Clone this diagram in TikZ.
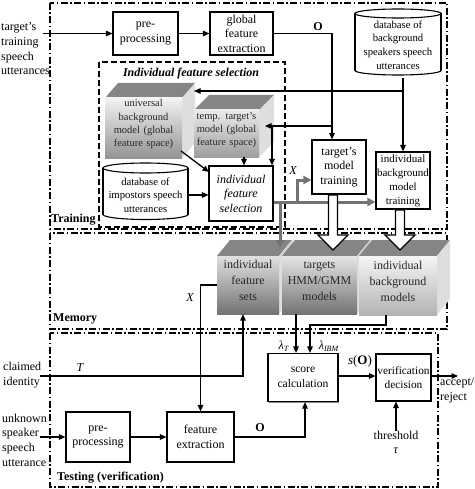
\documentclass[tikz,border=0pt]{standalone}
\usepackage{fontspec}
\setmainfont{Liberation Serif}
\usetikzlibrary{arrows.meta,shadows,fit,calc}
\newcommand{\mkcube}[9]{%
  \fill[black!48] (#2,#3) -- (#2+\cdx,#3-\cdy) -- (#4+\cdx,#3-\cdy) -- (#4,#3) -- cycle;
  \fill[black!13] (#4,#3) -- (#4+\cdx,#3-\cdy) -- (#4+\cdx,#5-\cdy) -- (#4,#5) -- cycle;
  \shade[top color=#6, bottom color=#7] (#2,#3) rectangle (#4,#5);
  \node[fit={(#2,#3) (#4,#5)}, inner sep=0pt, align=center, text=black!85, #8] (#1) {#9};
}
\begin{document}
\begin{tikzpicture}[x=1pt,y=-1pt,
  box/.style={draw, line width=1.1pt, fill=white, align=center, inner sep=0pt,
    font=\fontsize{12}{14.5}\selectfont,
    drop shadow={shadow xshift=1.3pt, shadow yshift=-1.3pt, fill=black!45, opacity=1}},
  ar/.style={line width=1.3pt, -{Triangle[length=6.5pt,width=5.5pt]}},
  ln/.style={line width=1.3pt},
  garr/.style={line width=3pt, draw=black!55, -{Triangle[length=8pt,width=8pt]}},
  ddframe/.style={line width=1.1pt, dash pattern=on 7pt off 2.5pt on 1.5pt off 2.5pt},
  dbtext/.style={align=center, inner sep=0pt, font=\fontsize{10.7}{13.6}\selectfont},
  lbl/.style={font=\fontsize{12}{14.5}\selectfont, inner sep=0pt},
  txt/.style={align=left, inner sep=0pt, font=\fontsize{12}{14.7}\selectfont},
  ttl/.style={font=\bfseries\fontsize{12}{14}\selectfont, inner sep=0pt, anchor=west}
]
\useasboundingbox (0,0) rectangle (474,489);

% ---------- frames ----------
\draw[ddframe] (50,3) rectangle (447,229);
\draw[ddframe] (50,233) rectangle (447,329);
\draw[ddframe] (50,333) rectangle (438,487);
\draw[line width=1.6pt, dash pattern=on 6pt off 3pt] (99,62) rectangle (285,227);
\node[ttl] at (51,220) {Training};
\node[ttl] at (53,319) {Memory};
\node[ttl] at (57,478) {Testing (verification)};
\node[font=\bfseries\itshape\fontsize{12}{14}\selectfont, inner sep=0pt] at (191,74) {Individual feature selection};

% ---------- left texts ----------
\node[txt, anchor=west] at (1,49) {target’s\\training\\speech\\utterances};
\node[txt, anchor=west] at (3,375) {claimed\\identity};
\node[txt, anchor=west] at (2,440) {unknown\\speaker\\speech\\utterance};
\node[txt, anchor=west] at (440,390) {accept/\\reject};

% ---------- training boxes ----------
\node[box, minimum width=65pt, minimum height=43pt] (pp1) at (145.5,33.5) {pre-\\processing};
\node[box, minimum width=63pt, minimum height=43pt] (gfe) at (241.5,33.5) {global\\feature\\extraction};
\node[box, minimum width=54pt, minimum height=54pt] (tmt) at (339,167) {target’s\\model\\training};
\node[box, minimum width=54pt, minimum height=57pt, font=\fontsize{11}{14}\selectfont] (ibmt) at (403,180.5) {individual\\background\\model\\training};
\node[box, minimum width=64pt, minimum height=55pt, font=\itshape\fontsize{12}{14.5}\selectfont] (ifs) at (241,193.5) {individual\\feature\\selection};

% database of background speakers (cylinder)
\draw[line width=1.1pt, fill=white] (398,70.5) ellipse (43 and 4.5);
\fill[white] (355,13.5) rectangle (441,70.5);
\draw[line width=1.1pt] (355,13.5) -- (355,70.5) (441,13.5) -- (441,70.5);
\draw[line width=1.1pt, fill=white] (398,13.5) ellipse (43 and 4.5);
\node[dbtext, minimum width=86pt, minimum height=66pt] (dbbg) at (398,45) {database of\\background\\speakers speech\\utterances};

% database of impostors (cylinder)
\draw[line width=1.1pt, fill=white] (145.5,214.5) ellipse (42.5 and 5);
\fill[white] (103,168) rectangle (188,214.5);
\draw[line width=1.1pt] (103,168) -- (103,214.5) (188,168) -- (188,214.5);
\draw[line width=1.1pt, fill=white] (145.5,168) ellipse (42.5 and 5);
\node[dbtext, minimum width=85pt, minimum height=50pt] (dbimp) at (145.5,195) {database of\\impostors speech\\utterances};

% cubes in training
\def\cdx{13}\def\cdy{15}
\mkcube{ubm}{105}{98}{182}{158}{black!5}{black!42}{font=\fontsize{10.5}{13.3}\selectfont}{universal\\background\\model (global\\feature space)}
\def\cdx{15}\def\cdy{15}
\mkcube{tcube}{194}{110}{259}{157}{black!8}{black!38}{font=\fontsize{10.5}{13.3}\selectfont}{temp. target’s\\model (global\\feature space)}

% cubes in memory
\def\cdx{13}\def\cdy{16}
\mkcube{fsc}{217}{256}{279}{314}{black!12}{black!55}{font=\fontsize{12}{16}\selectfont}{individual\\feature\\sets}
\mkcube{tmc}{282}{256}{357}{314}{black!10}{black!55}{font=\fontsize{12}{16}\selectfont}{targets\\HMM/GMM\\models}
\mkcube{bmc}{359}{256}{437}{315}{black!4}{black!30}{font=\fontsize{12}{16}\selectfont}{individual\\background\\models}
\draw[white!80!black, line width=0.8pt] (280.5,256) -- (293.5,240) (358,256) -- (371,240);

% ---------- training connectors ----------
\coordinate (in1) at (43,33.5);
\draw[ar] (in1) -- (in1 -| pp1.west);
\draw[ar] (pp1) -- (gfe);
\draw[ar] (gfe.east) -| (tmt.north -| 332,0);
\node[font=\bfseries\fontsize{12}{14}\selectfont, inner sep=0pt] at (318,27) {O};
\draw[ar] (332,126) -- (265,126);
\draw[ar] (272,126) -- (ifs.north -| 272,0);
\draw[ar] (tcube.south -| 244,0) -- (ifs.north -| 244,0);
\draw[ar] (dbbg.south -| ibmt.north) -- (ibmt.north);
\draw[ar] (403,91) -- (194,91);
\draw[ar] (181,151) -- (209,172);
\draw[ar] (dbimp.east |- 0,195) -- (ifs.west |- 0,195);

% gray arrows (features X)
\draw[garr] (ifs.east |- 0,202) -- (ibmt.west |- 0,202);
\draw[garr] (280,202) -- (280,248);
\draw[garr] (297,202) -- (297,180) -- (tmt.west |- 0,180);
\node[lbl, font=\itshape\fontsize{12}{14}\selectfont] at (293,171) {X};

% white block arrows
\draw[line width=1.1pt, fill=white] (328.5,195) -- (337.5,195) -- (337.5,235) -- (348,235) -- (333,250) -- (318,235) -- (328.5,235) -- cycle;
\draw[line width=1.1pt, fill=white] (395.5,210) -- (404.5,210) -- (404.5,235) -- (415,235) -- (400,250) -- (385,235) -- (395.5,235) -- cycle;

% ---------- testing ----------
\node[box, minimum width=64pt, minimum height=50pt] (pp2) at (98,437) {pre-\\processing};
\node[box, minimum width=67pt, minimum height=50pt] (fe) at (200.5,437) {feature\\extraction};
\node[box, minimum width=70pt, minimum height=48pt, font=\fontsize{11.6}{14.5}\selectfont] (sc) at (303,377.5) {score\\calculation};
\node[box, minimum width=55pt, minimum height=47pt, font=\fontsize{11.3}{14.5}\selectfont] (vd) at (403.5,377.5) {verification\\decision};
\node[lbl, anchor=north, align=center, font=\fontsize{12}{14}\selectfont] (thr) at (396,431) {threshold\\\textit{τ}};

\draw[ar] (fsc.west |- 0,285) -| (fe.north);
\node[lbl, font=\itshape\fontsize{12}{14}\selectfont] at (190,298) {X};
\coordinate (cl) at (40,376);
\draw[ar] (cl) -| (fsc.south -| 243,0);
\node[lbl, font=\itshape\fontsize{12}{14}\selectfont] at (80,368) {T};
\coordinate (un) at (40,437);
\draw[ar] (un) -- (un -| pp2.west);
\draw[ar] (pp2) -- (fe);
\draw[ar] (fe.east) -| (sc.south -| 305,0);
\node[font=\bfseries\fontsize{12}{14}\selectfont, inner sep=0pt] at (260,428) {O};
\draw[ar] (tmc.south -| 296,0) -- (sc.north -| 296,0);
\node[lbl] at (284,346) {\textit{λ}\textsubscript{\textit{T}}};
\draw[ar] (bmc.south -| 386,0) |- (310,325) -- (sc.north -| 310,0);
\node[lbl] at (329,346) {\textit{λ}\textsubscript{\textit{IBM}}};
\draw[ar] (sc.east |- 0,376) -- (vd.west |- 0,376);
\node[lbl, font=\fontsize{13}{14}\selectfont] at (360,361) {\textit{s}(\textbf{O})};
\draw[ar] (vd.east |- 0,376) -- (458,376);
\draw[ar] (thr.north) -- (vd.south -| thr.north);
\end{tikzpicture}
\end{document}
